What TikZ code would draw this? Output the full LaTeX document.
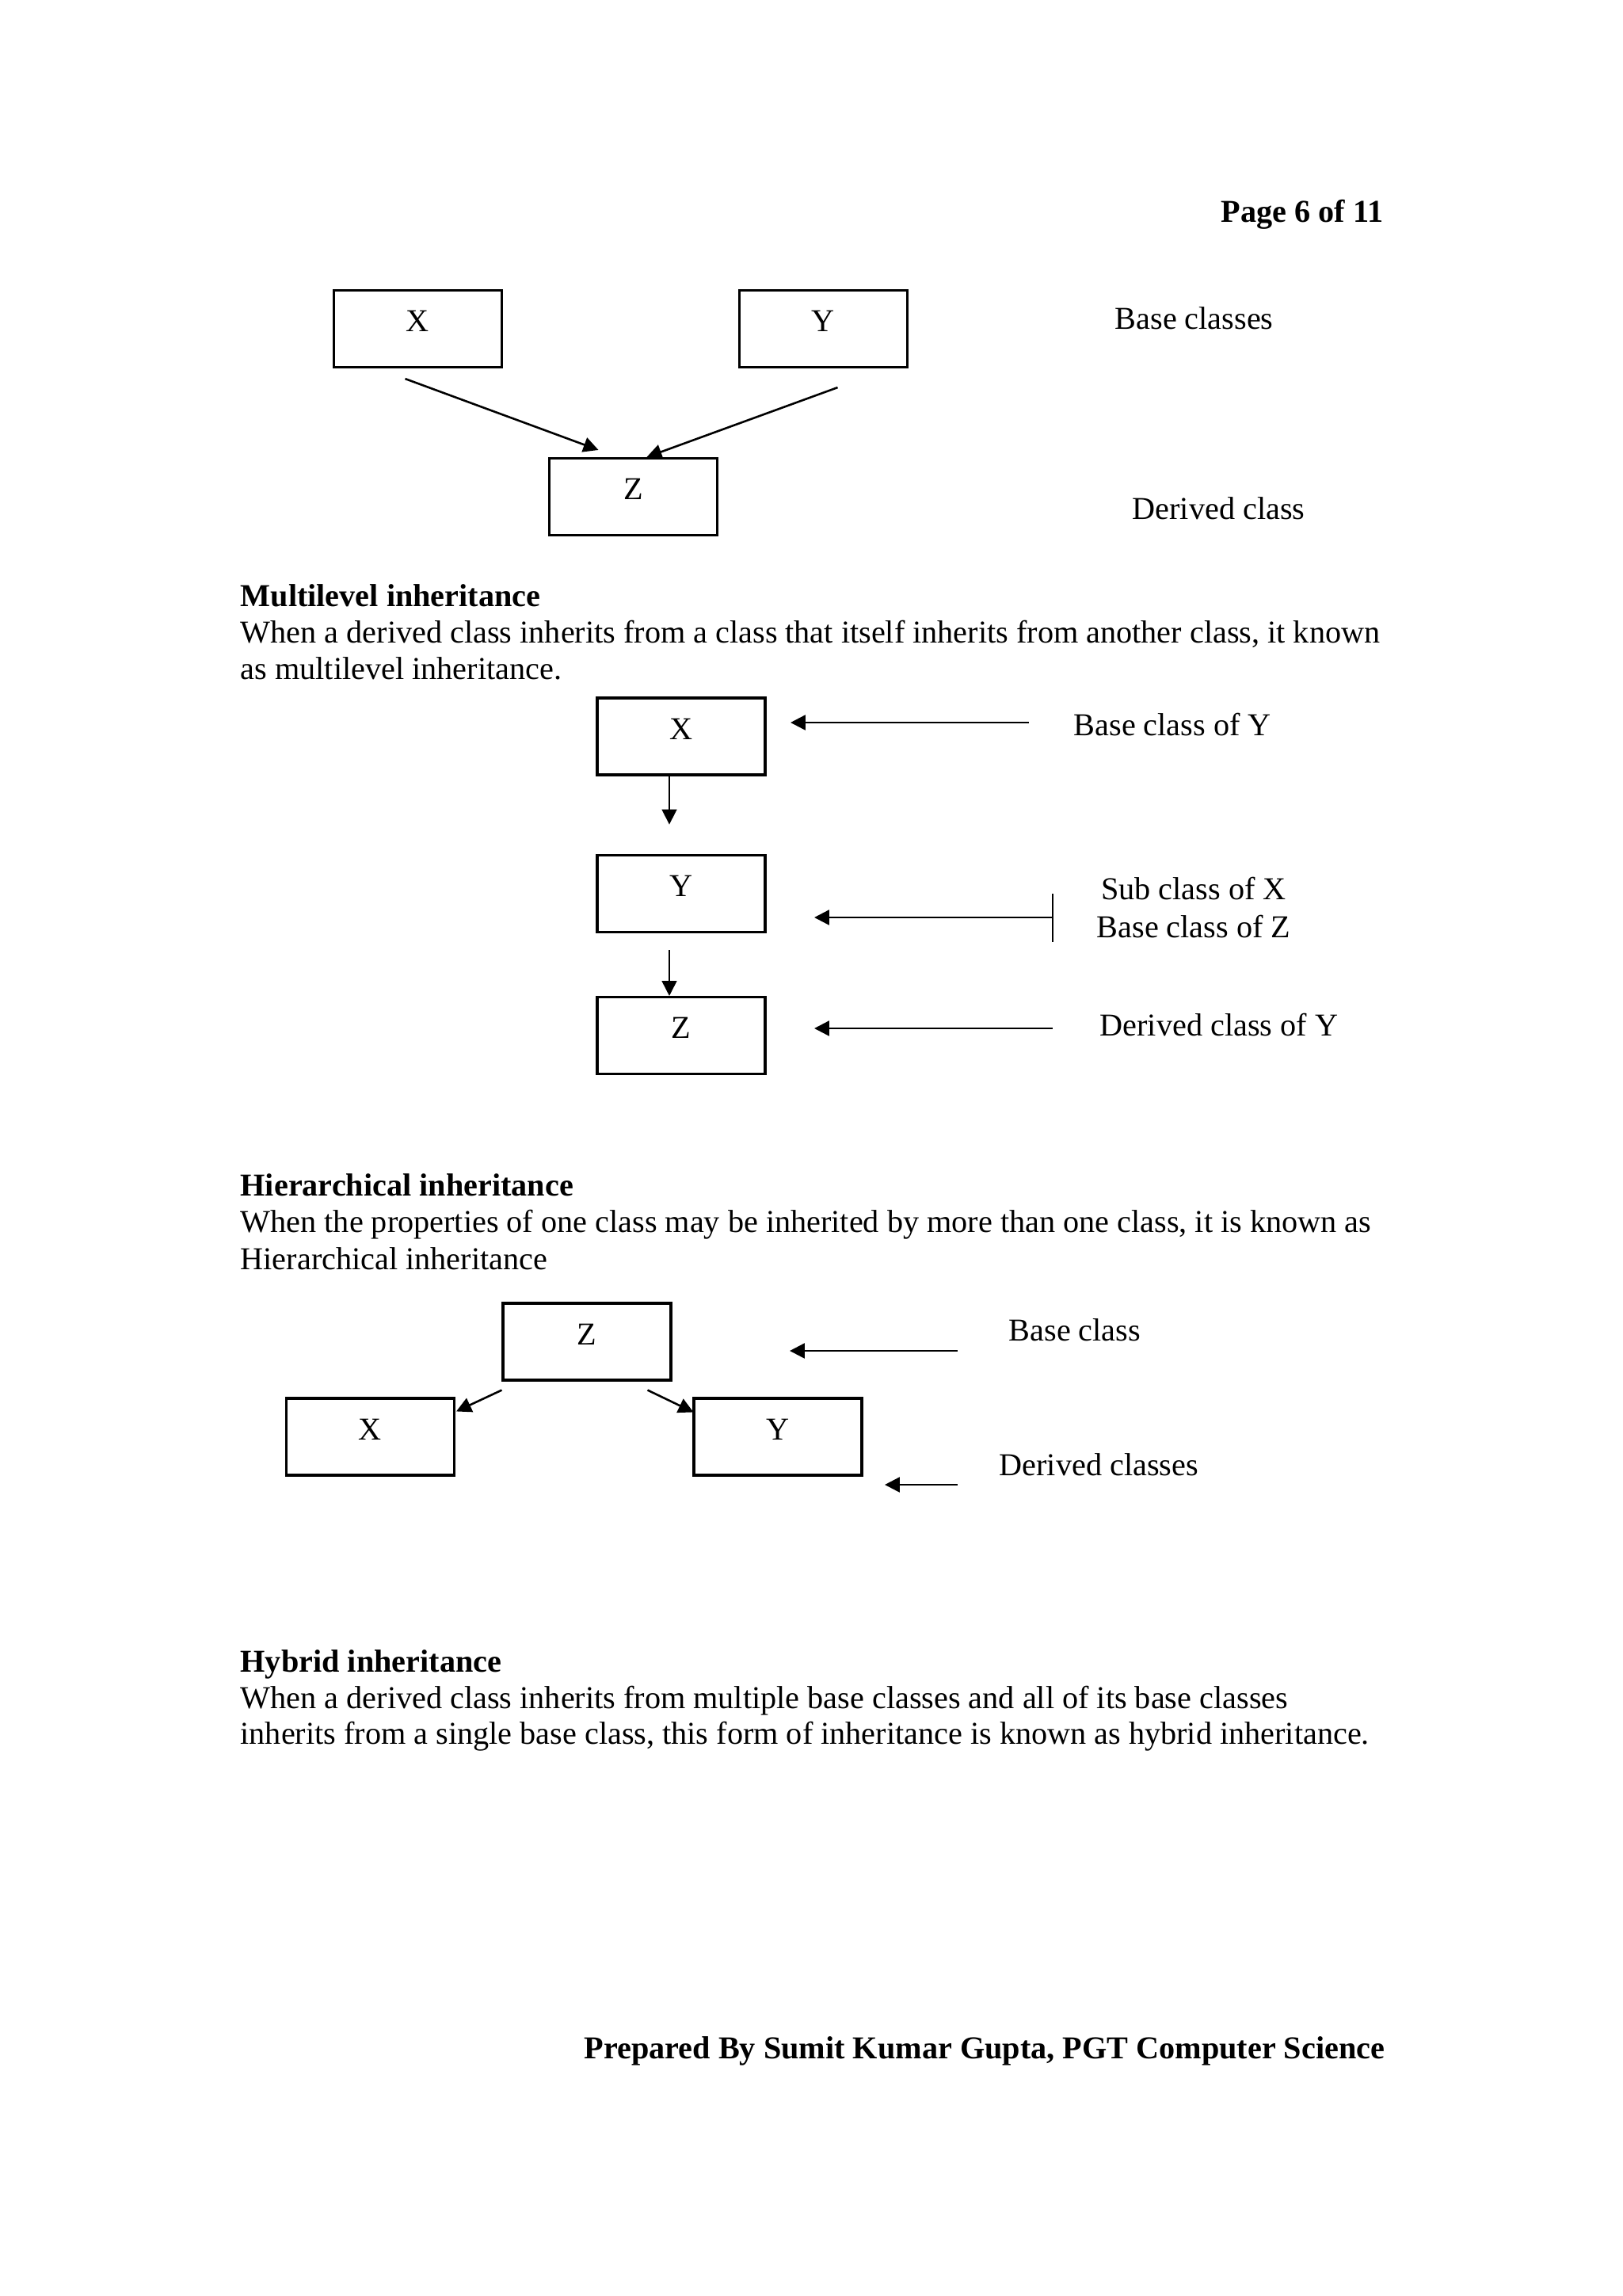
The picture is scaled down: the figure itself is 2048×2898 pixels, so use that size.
\documentclass[tikz,border=0pt]{standalone}
\usepackage{fontspec}
\setmainfont{Liberation Serif}
\usetikzlibrary{arrows.meta,calc}
\begin{document}
\begin{tikzpicture}[x=0.29067pt,y=-0.29067pt,
  font=\fontsize{11.69}{13.45}\selectfont,
  box/.style={draw, line width=0.9pt, minimum width=61.6pt, minimum height=28.2pt,
    inner sep=0pt, text height=8pt, text depth=5.8pt},
  arr/.style={-{Triangle[length=5.5pt,width=5.5pt]}, line width=0.75pt},
  varr/.style={-{Triangle[length=5.5pt,width=5.5pt]}, line width=0.5pt},
  txt/.style={anchor=base west, inner sep=0pt},
  ctxt/.style={anchor=base, inner sep=0pt},
  head/.style={anchor=base west, inner sep=0pt, font=\fontsize{11.69}{13.45}\selectfont\bfseries}]
\fill[white] (0,0) rectangle (2048,2898);
\useasboundingbox (0,0) rectangle (2048,2898);

% header
\node[anchor=base east, inner sep=0pt, font=\fontsize{11.69}{13.45}\selectfont\bfseries] (page) at (1747,280) {Page 6 of 11};

% ---- section 1: multiple inheritance diagram
\node[box] (X1) at (527.5,415) {X};
\node[box] (Y1) at (1039.5,415) {Y};
\node[box] (Z1) at (799.5,627) {Z};
\node[txt] (bc) at (1407,415) {Base classes};
\node[txt] (dc) at (1429,655) {Derived class};
\coordinate (a1s) at ($(X1.south)+(-16,13)$);
\coordinate (a1e) at ($(Z1.north)+(-44,-9)$);
\coordinate (a2s) at ($(Y1.south)+(18,24)$);
\coordinate (a2e) at ($(Z1.north)+(17,0)$);
\draw[arr] (a1s) -- (a1e);
\draw[arr] (a2s) -- (a2e);

% ---- section 2: multilevel
\node[head] (h2) at (303,765) {Multilevel inheritance};
\node[txt] (p2a) at (303,811) {When a derived class inherits from a class that itself inherits from another class, it known};
\node[txt] (p2b) at (303,857) {as multilevel inheritance.};

\node[box] (X2) at (860,929.5) {X};
\node[box] (Y2) at (860,1128) {Y};
\node[box] (Z2) at (860,1307) {Z};
\coordinate (v1s) at ($(X2.south)+(-15,0)$);
\coordinate (v1e) at ($(X2.south)+(-15,61)$);
\coordinate (v2s) at ($(Y2.south)+(-15,21)$);
\coordinate (v2e) at ($(Z2.north)+(-15,0)$);
\draw[varr] (v1s) -- (v1e);
\draw[varr] (v2s) -- (v2e);

\node[txt] (bcy) at (1355,928) {Base class of Y};
\node[ctxt] (scx) at (1507,1135) {Sub class of X};
\node[ctxt] (bcz) at (1507,1183) {Base class of Z};
\node[txt] (dcy) at (1388,1307) {Derived class of Y};
\coordinate (m1s) at (1299,912);
\coordinate (m1e) at (998,912);
\coordinate (m2s) at (1329,1158);
\coordinate (m2e) at (1028,1158);
\coordinate (bart) at (1329,1128);
\coordinate (barb) at (1329,1189);
\coordinate (m3s) at (1329,1298);
\coordinate (m3e) at (1028,1298);
\draw[arr] (m1s) -- (m1e);
\draw[arr] (m2s) -- (m2e);
\draw[line width=0.6pt] (bart) -- (barb);
\draw[arr] (m3s) -- (m3e);

% ---- section 3: hierarchical
\node[head] (h3) at (303,1509) {Hierarchical inheritance};
\node[txt] (p3a) at (303,1555) {When the properties of one class may be inherited by more than one class, it is known as};
\node[txt] (p3b) at (303,1602) {Hierarchical inheritance};

\node[box] (Z3) at (741,1693.5) {Z};
\node[box] (X3) at (467.5,1813.5) {X};
\node[box] (Y3) at (982,1813.5) {Y};
\coordinate (h1s) at ($(Z3.south west)+(0,11)$);
\coordinate (h1e) at ($(X3.north east)+(1,18)$);
\coordinate (h2s) at ($(Z3.south east)+(-31,11)$);
\coordinate (h2e) at ($(Y3.north west)+(1,19)$);
\draw[arr] (h1s) -- (h1e);
\draw[arr] (h2s) -- (h2e);

\node[txt] (hbc) at (1273,1692) {Base class};
\node[txt] (hdc) at (1261,1862) {Derived classes};
\coordinate (k1s) at (1209,1705);
\coordinate (k1e) at (997,1705);
\coordinate (k2s) at (1209,1874);
\coordinate (k2e) at (1117,1874);
\draw[arr] (k1s) -- (k1e);
\draw[arr] (k2s) -- (k2e);

% ---- section 4: hybrid
\node[head] (h4) at (303,2110) {Hybrid inheritance};
\node[txt] (p4a) at (303,2156) {When a derived class inherits from multiple base classes and all of its base classes};
\node[txt] (p4b) at (303,2201) {inherits from a single base class, this form of inheritance is known as hybrid inheritance.};

% footer
\node[anchor=base east, inner sep=0pt, font=\fontsize{11.69}{13.45}\selectfont\bfseries] (foot) at (1749,2598) {Prepared By Sumit Kumar Gupta, PGT Computer Science};
\end{tikzpicture}
\end{document}
